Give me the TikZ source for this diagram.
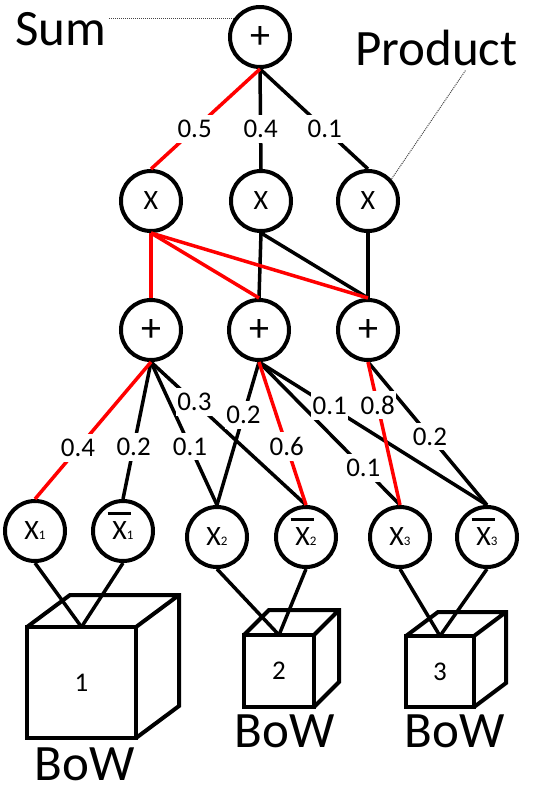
\documentclass[tikz,border=0pt]{standalone}
\usepackage{fontspec}
\setmainfont{Carlito}
\usepackage{tikz}
\usetikzlibrary{positioning}
\definecolor{pathred}{RGB}{255,0,0}
\definecolor{dotgray}{RGB}{70,70,70}
\newcommand{\leafx}[1]{X{\fontsize{13}{13}\selectfont #1}}
\newcommand{\leafnx}[1]{\makebox[0pt][l]{\hspace{-0.17em}\smash{\raisebox{0.88em}{\rule{0.82em}{0.11em}}}}X{\fontsize{13}{13}\selectfont #1}}

\begin{document}
\begin{tikzpicture}[
  x=1pt, y=-1pt,
  opnode/.style={circle, draw, line width=4pt, minimum size=60pt, inner sep=0pt, font=\fontsize{28}{28}\selectfont},
  plusnode/.style={opnode, font=\fontsize{40}{40}\selectfont},
  bowface/.style={draw, line width=4pt, outer sep=0pt, inner sep=0pt, font=\fontsize{27}{27}\selectfont},
  cubeedge/.style={draw, line width=4pt, line join=miter},
  wire/.style={draw=black, line width=3.5pt},
  hot/.style={draw=pathred, line width=3.5pt},
  wgt/.style={fill=white, inner xsep=1.5pt, inner ysep=5pt, font=\fontsize{27}{27}\selectfont},
  biglbl/.style={inner sep=0pt, font=\fontsize{51}{51}\selectfont},
  dotline/.style={draw=dotgray, line width=1pt, dash pattern=on 1pt off 1pt}
]
  \useasboundingbox (0,0) rectangle (536,788);

  \node[plusnode] (sum) at (260,37) {+};
  \node[opnode] (prodA) at (151,201) {X};
  \node[opnode] (prodB) at (261,201) {X};
  \node[opnode] (prodC) at (368,201) {X};
  \node[plusnode] (sumA) at (151,330) {+};
  \node[plusnode] (sumB) at (259,330) {+};
  \node[plusnode] (sumC) at (368,330) {+};
  \node[opnode] (x1) at (35,531) {\leafx{1}};
  \node[opnode] (nx1) at (123,531) {\leafnx{1}};
  \node[opnode] (x2) at (217,537) {\leafx{2}};
  \node[opnode] (nx2) at (306,537) {\leafnx{2}};
  \node[opnode] (x3) at (400,537) {\leafx{3}};
  \node[opnode] (nx3) at (487,537) {\leafnx{3}};

  \node[bowface, minimum width=109pt, minimum height=111pt] (cubeA) at (81.5,682.5) {1};
  \node[bowface, minimum width=70pt, minimum height=72pt] (cubeB) at (279,671) {2};
  \node[bowface, minimum width=68pt, minimum height=71pt] (cubeC) at (440,671.5) {3};

  \node[biglbl, anchor=base west] (sumlbl) at (15,45) {Sum};
  \node[biglbl, anchor=base west] (prodlbl) at (355,65) {Product};
  \node[biglbl, anchor=base] (bowA) at (85,780) {BoW};
  \node[biglbl, anchor=base] (bowB) at (285,747) {BoW};
  \node[biglbl, anchor=base] (bowC) at (455,747) {BoW};

  \draw[cubeedge] (cubeA.north west) -- ([shift={(43,-32)}]cubeA.north west) -- ([shift={(43,-32)}]cubeA.north east) -- ([shift={(43,-32)}]cubeA.south east) -- (cubeA.south east) (cubeA.north east) -- ([shift={(43,-32)}]cubeA.north east);
  \draw[cubeedge] (cubeB.north west) -- ([shift={(25,-25)}]cubeB.north west) -- ([shift={(25,-25)}]cubeB.north east) -- ([shift={(25,-25)}]cubeB.south east) -- (cubeB.south east) (cubeB.north east) -- ([shift={(25,-25)}]cubeB.north east);
  \draw[cubeedge] (cubeC.north west) -- ([shift={(32,-24)}]cubeC.north west) -- ([shift={(32,-24)}]cubeC.north east) -- ([shift={(32,-24)}]cubeC.south east) -- (cubeC.south east) (cubeC.north east) -- ([shift={(32,-24)}]cubeC.north east);

  \draw[dotline, shorten <=3pt] (sumlbl.east |- sum.145) -- (sum.145);
  \draw[dotline] ([xshift=29pt,yshift=-5pt]prodlbl.south) -- (prodC.43);

  \draw[wire] (sum.south) -- node[wgt, pos=0.6] {0.4} (prodB.north);
  \draw[wire] (sum.south) -- node[wgt, pos=0.6] {0.1} (prodC.north);
  \draw[hot] (sum.south) -- node[wgt, pos=0.6] {0.5} (prodA.north);

  \draw[wire] (prodB.south) -- (sumB.north);
  \draw[wire] (prodB.south) -- (sumC.north);
  \draw[wire] (prodC.south) -- (sumC.north);
  \draw[hot] (prodA.south) -- (sumA.north);
  \draw[hot] (prodA.south) -- (sumB.north);
  \draw[hot] (prodA.south) -- (sumC.north);

  \draw[wire] (sumA.south) -- node[wgt, pos=0.62] {0.2} (nx1.north);
  \draw[wire] (sumA.south) -- node[wgt, pos=0.59] {0.1} (x2.north);
  \draw[wire] (sumA.south) -- node[wgt, pos=0.28] {0.3} (nx2.north);
  \draw[hot] (sumA.south) -- node[wgt, pos=0.63] {0.4} (x1.north);
  \draw[wire] (sumB.south) -- node[wgt, pos=0.37] {0.2} (x2.north);
  \draw[wire] (sumB.south) -- node[wgt, pos=0.74] {0.1} (x3.north);
  \draw[wire] (sumB.south) -- node[wgt, pos=0.31] {0.1} (nx3.north);
  \draw[hot] (sumB.south) -- node[wgt, pos=0.59] {0.6} (nx2.north);
  \draw[wire] (sumC.south) -- node[wgt, pos=0.52] {0.2} (nx3.north);
  \draw[hot] (sumC.south) -- node[wgt, pos=0.30] {0.8} (x3.north);

  \draw[wire] (x1.south) -- (cubeA.north);
  \draw[wire] (nx1.south) -- (cubeA.north);
  \draw[wire] (x2.south) -- (cubeB.north);
  \draw[wire] (nx2.south) -- (cubeB.north);
  \draw[wire] (x3.south) -- (cubeC.north);
  \draw[wire] (nx3.south) -- (cubeC.north);
\end{tikzpicture}
\end{document}
